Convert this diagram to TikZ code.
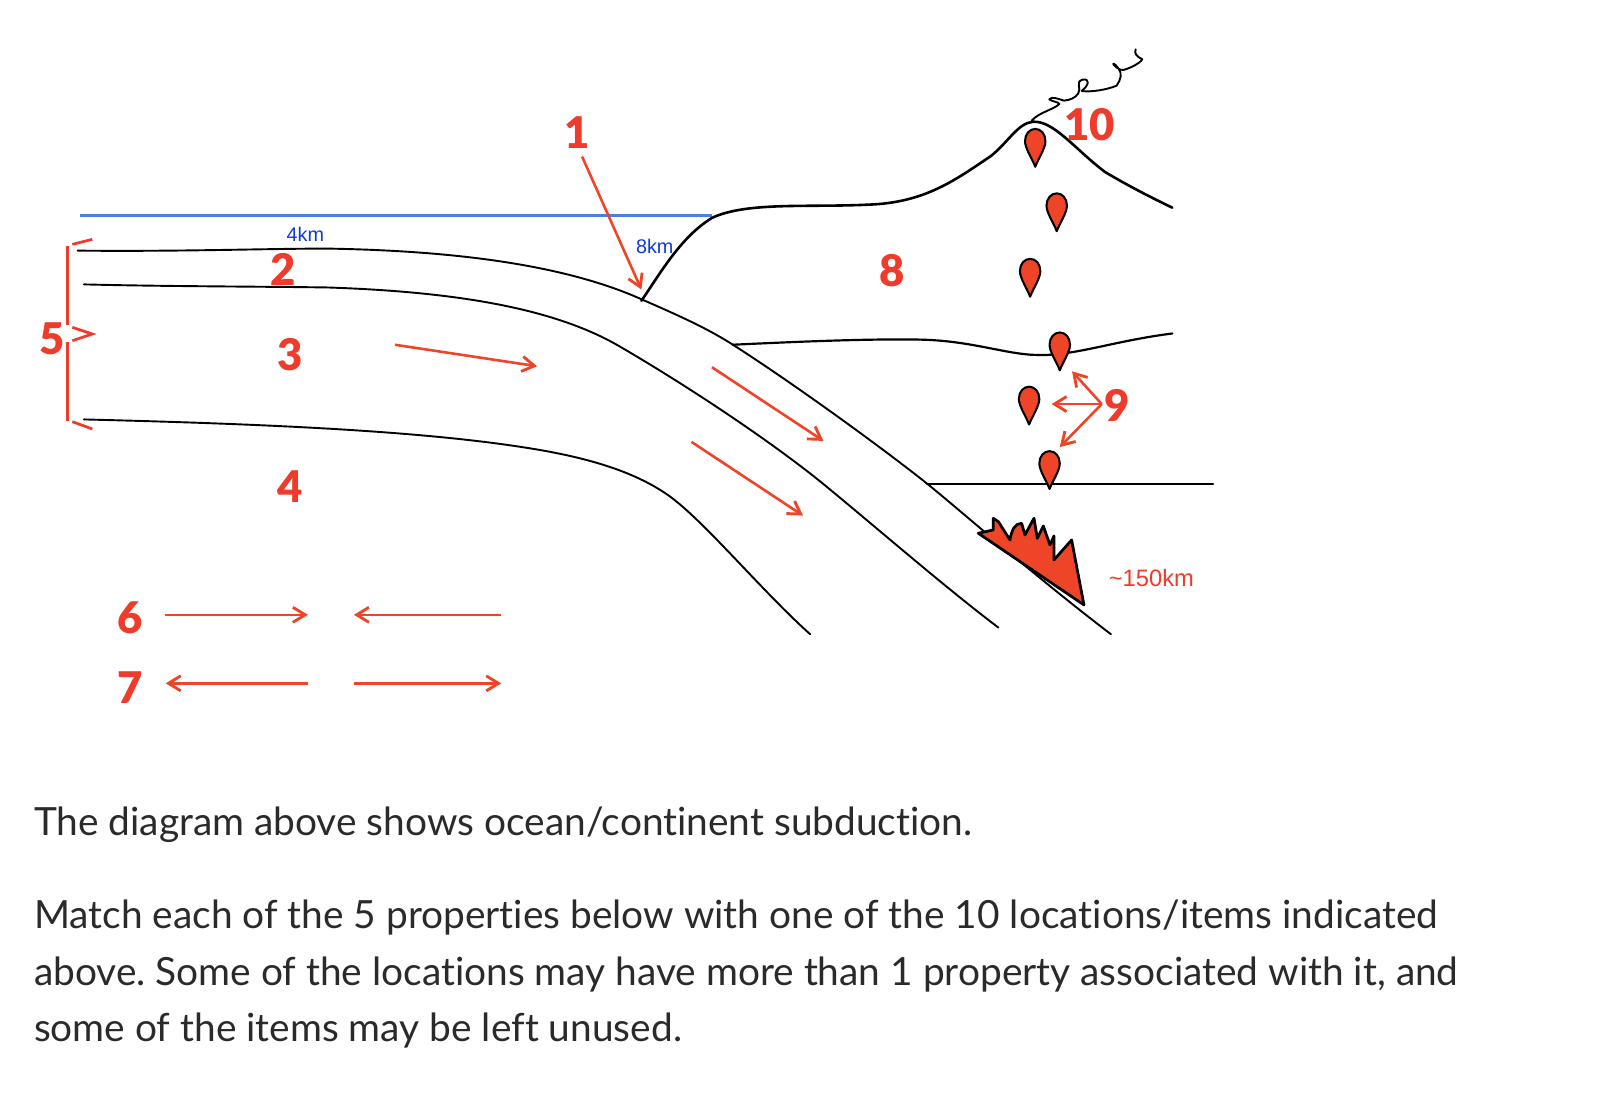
\documentclass[tikz,border=0pt]{standalone}
\usepackage{fontspec}
\setmainfont{Lato}[Ligatures=NoCommon]
\newfontfamily\numfont{Lato Black}
\newfontfamily\smallfont{Liberation Sans}
\usetikzlibrary{arrows.meta}
\definecolor{lab}{HTML}{EE3B2B}
\definecolor{arr}{HTML}{EE4428}
\definecolor{sea}{HTML}{4A7FE6}
\definecolor{kmblue}{HTML}{1238D8}
\definecolor{ink}{HTML}{2A2A2A}
\tikzset{
  num/.style={font=\numfont\fontsize{32}{32}\selectfont,text=lab,inner sep=0pt},
  km/.style={font=\smallfont\fontsize{14.5}{14.5}\selectfont,inner sep=0pt},
  body/.style={font=\fontsize{28.48}{33}\selectfont,text=ink,inner sep=0pt,anchor=base west},
  rock/.style={draw=black,line width=1.9pt,line cap=round,line join=round},
  plate/.style={draw=black,line width=1.4pt,line cap=round,line join=round},
  redarrow/.style={draw=arr,line width=1.9pt,-{Straight Barb[length=9pt,width=11pt,line width=2.1pt]}},
  brace/.style={draw=lab,line width=2pt},
  dropshape/.style={draw=black,fill=arr,line width=1.5pt,line join=round}
}
\newcommand{\magmadrop}[2]{% tip position
  \path[dropshape] (#1,#2) .. controls (#1-3,#2-8) and (#1-10,#2-18) .. (#1-10,#2-25)
    .. controls (#1-10,#2-32) and (#1-5.5,#2-37) .. (#1,#2-37)
    .. controls (#1+5.5,#2-37) and (#1+10,#2-32) .. (#1+10,#2-25)
    .. controls (#1+10,#2-18) and (#1+3,#2-8) .. (#1,#2) -- cycle;}
\begin{document}
\frenchspacing
\begin{tikzpicture}[x=0.75pt,y=-0.75pt]
\useasboundingbox (0,0) rectangle (1568,1079.2);
% sea level
\draw[sea,line width=2.3pt] (78,211) -- (696,211);
% plate boundaries
\draw[plate] (76,245) .. controls (180,246) and (260,243) .. (320,243)
  .. controls (440,245) and (550,258) .. (627,292.5)
  .. controls (660,307) and (690,320) .. (716.8,337.2)
  .. controls (775,374.5) and (860,436) .. (905.8,472.4)
  .. controls (940,500) and (1010,562) .. (1086,620);
\draw[plate] (82,278) .. controls (160,280) and (250,280) .. (320,281)
  .. controls (440,285) and (540,300) .. (606,338.8)
  .. controls (670,376) and (755,432) .. (808,475.7)
  .. controls (860,518.5) and (925,575) .. (976,613.5);
\draw[plate] (82,410) .. controls (240,414) and (400,420) .. (510,437)
  .. controls (570,446) and (620,460) .. (655,485.4)
  .. controls (690,511) and (745,578) .. (792,620);
% continent surface
\draw[rock] (627,294) .. controls (645,268) and (665,232) .. (696,213)
  .. controls (730,197) and (790,203) .. (850,200)
  .. controls (905,198) and (935,175) .. (968,153)
  .. controls (985,140) and (995,120) .. (1010,119)
  .. controls (1030,118) and (1050,145) .. (1080,168)
  .. controls (1100,180) and (1125,193) .. (1146,203);
% squiggle (volcano plume)
\begin{scope}[shift={(918.9,29.3)},scale=0.3258]
\draw[plate] (275,272) .. controls (300,245) and (340,240) .. (358,222)
  .. controls (355,215) and (335,215) .. (328,208)
  .. controls (335,198) and (355,207) .. (372,212)
  .. controls (390,210) and (405,205) .. (415,190)
  .. controls (425,175) and (405,155) .. (428,149)
  .. controls (450,145) and (448,165) .. (425,183)
  .. controls (450,187) and (500,180) .. (530,167)
  .. controls (542,150) and (548,130) .. (535,115)
  .. controls (525,100) and (515,98) .. (522,105)
  .. controls (530,115) and (540,120) .. (550,120)
  .. controls (570,115) and (600,100) .. (607,88)
  .. controls (590,80) and (582,70) .. (587,58);
\end{scope}
% Moho and lower horizontal
\draw[plate,line width=1.6pt] (716,337) .. controls (780,334) and (850,331) .. (900,332)
  .. controls (950,333) and (985,347) .. (1015,347)
  .. controls (1050,348) and (1090,333) .. (1146,326);
\draw[plate] (906,473) -- (1186,473);
% magma body
\begin{scope}[shift={(909.1,303)},scale=0.3258]
\path[dropshape,line width=2pt] (145,670) -- (190,660) -- (190,625) -- (205,635) -- (240,690)
  .. controls (245,660) and (255,640) .. (275,640) -- (285,675) -- (312,625) -- (322,685)
  -- (340,648) -- (360,705) -- (372,678) -- (372,750) -- (425,690) -- (462,885) -- cycle;
\end{scope}
% magma droplets
\magmadrop{1012}{163}
\magmadrop{1033}{226}
\magmadrop{1007}{290}
\magmadrop{1036}{362}
\magmadrop{1006}{415}
\magmadrop{1026}{478}
% bracket of 5
\begin{scope}[shift={(19.55,205.3)},scale=0.3258]
\draw[brace] (143,108) -- (143,345);
\draw[brace] (143,395) -- (143,632);
\draw[brace] (157,103) -- (217,88);
\draw[brace] (157,635) -- (217,657);
\draw[brace] (157,352) -- (217,372) -- (157,392);
\end{scope}
% arrow ends
\coordinate (a1s) at (569,153); \coordinate (a1e) at (627,283);
\coordinate (a3s) at (386,337); \coordinate (a3e) at (525,358);
\coordinate (bs) at (696,359); \coordinate (be) at (805,431);
\coordinate (cs) at (676,432); \coordinate (ce) at (785,504);
\coordinate (d1s) at (161,601); \coordinate (d1e) at (301,601);
\coordinate (d2s) at (490,601); \coordinate (d2e) at (346,601);
\coordinate (e1s) at (301,668); \coordinate (e1e) at (162,668);
\coordinate (e2s) at (346,668); \coordinate (e2e) at (490,668);
\coordinate (nine) at (1077,395);
\coordinate (n1) at (1048,363); \coordinate (n2) at (1028,395); \coordinate (n3) at (1036,437);
\draw[redarrow] (a1s) -- (a1e);
\draw[redarrow] (a3s) -- (a3e);
\draw[redarrow] (bs) -- (be);
\draw[redarrow] (cs) -- (ce);
\draw[redarrow] (d1s) -- (d1e);
\draw[redarrow] (d2s) -- (d2e);
\draw[redarrow] (e1s) -- (e1e);
\draw[redarrow] (e2s) -- (e2e);
\draw[redarrow] (nine) -- (n1);
\draw[redarrow] (nine) -- (n2);
\draw[redarrow] (nine) -- (n3);
% labels
\node[num] (l1) at (564.5,130) {1};
\node[num] (l2) at (277,263) {2};
\node[num] (l3) at (283.5,347) {3};
\node[num] (l4) at (283.5,476) {4};
\node[num] (l5) at (51,331) {5};
\node[num] (l6) at (127,604) {6};
\node[num] (l7) at (127,672) {7};
\node[num] (l8) at (872,265) {8};
\node[num] (l9) at (1092,396) {9};
\node[num] (l10) at (1065.5,122) {10};
\node[km,text=kmblue] (k4) at (298.5,229) {4km};
\node[km,text=kmblue] (k8) at (640,241) {8km};
\node[km,text=lab,font=\smallfont\fontsize{17.4}{17.4}\selectfont] (k150) at (1125.5,565.5) {\char`\~150km};
% text
\node[body] (t1) at (33,817) {The diagram above shows ocean/continent subduction.};
\node[body] (t2) at (33,908) {Match each of the 5 properties below with one of the 10 locations/items indicated};
\node[body] (t3) at (33,963) {above. Some of the locations may have more than 1 property associated with it, and};
\node[body] (t4) at (33,1018) {some of the items may be left unused.};
\end{tikzpicture}
\end{document}
